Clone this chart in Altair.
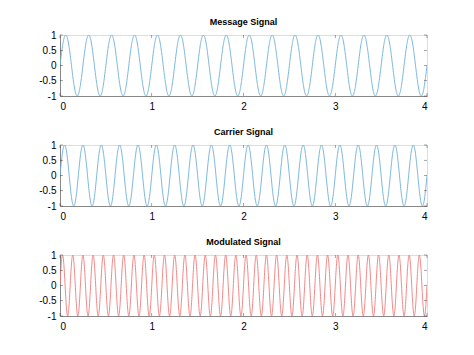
import numpy as np
import pandas as pd
import altair as alt

# Signal definitions
titles = ["Message Signal", "Carrier Signal", "Modulated Signal"]
frequencies_hz = [4, 5, 9]          # cycles per second read from peak spacing
amplitudes = [1, 1, 1]
colors = ["#6aaed6", "#6aaed6", "#f27a7a"]
x_ticks = [0, 1, 2, 3, 4]
y_ticks = [-1, -0.5, 0, 0.5, 1]

t_values = np.linspace(0, 4, 2001)

W, H = 367, 61
FONT = "Liberation Sans"
LABEL_EXPR = "datum.value < 0 ? '-' + format(-datum.value, '~g') : format(datum.value, '~g')"

x_axis = alt.Axis(values=x_ticks, title=None, tickSize=0, labelExpr=LABEL_EXPR,
                  labelPadding=5, grid=False, labelOverlap=False)
y_axis = alt.Axis(values=y_ticks, title=None, tickSize=0, labelExpr=LABEL_EXPR,
                  labelPadding=4, grid=False, labelOverlap=False)
xs = alt.Scale(domain=[0, 4], nice=False)
ys = alt.Scale(domain=[-1, 1], nice=False)

panels = []
for title, f, a, col in zip(titles, frequencies_hz, amplitudes, colors):
    df = pd.DataFrame({"t": t_values, "v": a * np.sin(2 * np.pi * f * t_values)})
    line = alt.Chart(df).mark_line(color=col, strokeWidth=0.9, clip=True).encode(
        x=alt.X("t:Q", scale=xs, axis=x_axis),
        y=alt.Y("v:Q", scale=ys, axis=y_axis),
    )
    xt = pd.DataFrame({"t": x_ticks})
    yt = pd.DataFrame({"v": y_ticks})
    tk = dict(color="#262626", size=3, thickness=0.6)
    xt_bot = alt.Chart(xt).mark_tick(orient="vertical", **tk).encode(
        x=alt.X("t:Q", scale=xs, axis=x_axis), y=alt.value(H - 1.5))
    xt_top = alt.Chart(xt).mark_tick(orient="vertical", **tk).encode(
        x=alt.X("t:Q", scale=xs, axis=x_axis), y=alt.value(1.5))
    yt_left = alt.Chart(yt).mark_tick(orient="horizontal", **tk).encode(
        y=alt.Y("v:Q", scale=ys, axis=y_axis), x=alt.value(1.5))
    yt_right = alt.Chart(yt).mark_tick(orient="horizontal", **tk).encode(
        y=alt.Y("v:Q", scale=ys, axis=y_axis), x=alt.value(W - 1.5))
    panel = alt.layer(line, xt_bot, xt_top, yt_left, yt_right).properties(
        width=W, height=H,
        title=alt.TitleParams(title, fontSize=9, fontWeight="bold", font=FONT,
                              color="#000000", offset=3, anchor="middle"),
    )
    panels.append(panel)

chart = alt.vconcat(*panels, spacing=15).properties(
    padding={"left": 38, "top": 17, "right": 10, "bottom": 5}
).configure_axis(
    labelFont=FONT, labelFontSize=9, labelColor="#262626",
    domainColor="#262626", domainWidth=0.6,
).configure_view(stroke="#262626", strokeWidth=0.6).configure(background="white")

chart.save("out.html", embed_options={"renderer": "svg", "actions": False})
